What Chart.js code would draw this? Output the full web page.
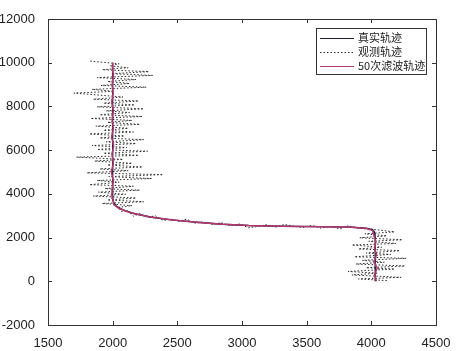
<!DOCTYPE html>
<html>
<head>
<meta charset="utf-8">
<script src="https://cdn.jsdelivr.net/npm/chart.js@4"></script>
<style>
  html, body { margin: 0; padding: 0; background: #fff; }
  #wrap { width: 474px; height: 351px; }
</style>
</head>
<body>
<div id="wrap"><canvas id="trackChart"></canvas></div>
<script>
// Axis ticks
const xTicks = [1500, 2000, 2500, 3000, 3500, 4000, 4500];
const yTicks = [-2000, 0, 2000, 4000, 6000, 8000, 10000, 12000];

// Legend names
const seriesNames = ["真实轨迹", "观测轨迹", "50次滤波轨迹"];

// True trajectory
const trueX = [4030, 4030, 4030, 4025, 4010, 3960, 3850, 3600, 3300, 3050, 2850, 2650, 2450, 2300, 2170, 2080, 2030, 2008, 2000, 2000];
const trueY = [0, 1000, 2000, 2250, 2360, 2430, 2470, 2500, 2520, 2550, 2610, 2700, 2810, 2930, 3090, 3270, 3430, 3600, 3800, 10000];

// Observed trajectory (noisy)
const obsX = [
  4120, 3900, 4230, 3850, 4050, 3820, 4180, 3960, 4260, 3880, 4100, 3930, 4270, 3870, 4150, 3960, 4220, 3900, 4080, 3850,
  4190, 3980, 4240, 3910, 4120, 3950, 4180, 4010,
  3900, 3820, 3760, 3680, 3610, 3540, 3470, 3400, 3330, 3260, 3190, 3120, 3050, 2980, 2910, 2840, 2770, 2700, 2640, 2570,
  2510, 2450, 2390, 2330, 2270, 2210, 2160, 2110, 2070, 2040,
  2150, 1920, 2240, 1960, 2180, 1850, 2100, 1890, 2210, 1940, 2160, 1820, 2050, 1880, 2300, 1970, 2390, 1800, 2120, 1900,
  2230, 1960, 2150, 1860, 2080, 1720, 2200, 1930, 2270, 1880, 2110, 1840, 2180, 1950, 2240, 1900, 2090, 1820, 2160, 1930,
  2120, 1870, 2210, 1960, 2150, 1830, 2230, 1900, 2130, 1950, 2240, 1880, 2170, 1930, 2200, 1850, 2080, 1700, 2010, 1840,
  2260, 1910, 2130, 1960, 2180, 1880, 2310, 1990, 2280, 1920, 2120, 1980, 2050, 1820
];
const obsY = [
  30, 110, 180, 290, 370, 450, 560, 620, 700, 790, 870, 960, 1050, 1120, 1230, 1290, 1400, 1480, 1560, 1660,
  1730, 1830, 1900, 1990, 2080, 2170, 2260, 2380,
  2420, 2540, 2400, 2510, 2430, 2560, 2460, 2520, 2600, 2480, 2590, 2510, 2450, 2620, 2540, 2680, 2600, 2720, 2650, 2840,
  2740, 2850, 2780, 3000, 2920, 3100, 2980, 3250, 3180, 3380,
  3460, 3560, 3640, 3720, 3810, 3900, 3980, 4080, 4170, 4240, 4350, 4420, 4530, 4610, 4700, 4790, 4880, 4960, 5060, 5140,
  5230, 5320, 5400, 5500, 5580, 5680, 5760, 5860, 5950, 6030, 6120, 6210, 6300, 6380, 6480, 6560, 6650, 6740, 6830, 6910,
  7000, 7100, 7180, 7270, 7360, 7450, 7540, 7620, 7720, 7800, 7890, 7980, 8070, 8150, 8250, 8330, 8430, 8610, 8690, 8780,
  8880, 8960, 9050, 9140, 9230, 9320, 9420, 9500, 9590, 9680, 9770, 9860, 9950, 10080
];

// Filtered trajectory (50 runs)
const filtX = [4040, 4025, 4045, 4020, 4040, 4025, 4035, 4020, 4010, 3960, 3850, 3600, 3300, 3050, 2850, 2650, 2450, 2280, 2130, 2050,
  2010, 2000, 1995, 2005, 1990, 2005, 1995, 2008, 1992, 2005, 1995, 2006, 1993, 2004, 1996, 2005, 1998, 2000];
const filtY = [0, 300, 600, 900, 1200, 1500, 1800, 2100, 2320, 2420, 2470, 2500, 2520, 2550, 2610, 2700, 2810, 2950, 3150, 3330,
  3500, 3800, 4200, 4600, 5000, 5400, 5800, 6200, 6600, 7000, 7400, 7800, 8200, 8600, 9000, 9400, 9800, 10000];

function zip(xs, ys) {
  return xs.map((x, i) => ({ x: x, y: ys[i] }));
}

const colTrue = "#1c1c3c";
const colObs = "#2a2a2a";
const colFilt = "#b3386f";

// Box, inward ticks and legend, MATLAB style
const matlabFrame = {
  id: "matlabFrame",
  afterDraw(chart) {
    const ctx = chart.ctx;
    const a = chart.chartArea;
    const xs = chart.scales.x, ys = chart.scales.y;
    ctx.save();
    ctx.strokeStyle = "#333";
    ctx.lineWidth = 1;
    ctx.strokeRect(Math.round(a.left) + 0.5, Math.round(a.top) + 0.5,
      Math.round(a.right - a.left), Math.round(a.bottom - a.top));
    ctx.beginPath();
    xTicks.forEach(v => {
      const px = Math.round(xs.getPixelForValue(v)) + 0.5;
      ctx.moveTo(px, a.bottom); ctx.lineTo(px, a.bottom - 4);
      ctx.moveTo(px, a.top); ctx.lineTo(px, a.top + 4);
    });
    yTicks.forEach(v => {
      const py = Math.round(ys.getPixelForValue(v)) + 0.5;
      ctx.moveTo(a.left, py); ctx.lineTo(a.left + 4, py);
      ctx.moveTo(a.right, py); ctx.lineTo(a.right - 4, py);
    });
    ctx.stroke();

    // legend
    const lx = 316.5, ly = 28.5, lw = 110, lh = 46;
    ctx.fillStyle = "#fff";
    ctx.fillRect(lx, ly, lw, lh);
    ctx.strokeStyle = "#333";
    ctx.strokeRect(lx, ly, lw, lh);
    const rows = [
      { c: colTrue, dash: [], y: 38 },
      { c: colObs, dash: [1.5, 2], y: 52 },
      { c: colFilt, dash: [], y: 66 }
    ];
    ctx.font = "11px 'Noto Sans CJK SC', sans-serif";
    ctx.textBaseline = "middle";
    rows.forEach((r, i) => {
      ctx.beginPath();
      ctx.setLineDash(r.dash);
      ctx.strokeStyle = r.c;
      ctx.lineWidth = r.dash.length ? 1 : 1.2;
      ctx.moveTo(320, r.y + 0.5); ctx.lineTo(354, r.y + 0.5);
      ctx.stroke();
      ctx.setLineDash([]);
      ctx.fillStyle = "#222";
      ctx.fillText(seriesNames[i], 358, r.y);
    });
    ctx.restore();
  }
};

const ctx = document.getElementById("trackChart").getContext("2d");
new Chart(ctx, {
  type: "scatter",
  data: {
    datasets: [
      {
        label: seriesNames[2], data: zip(filtX, filtY), showLine: true,
        borderColor: colFilt, borderWidth: 1.5, pointRadius: 0
      },
      {
        label: seriesNames[0], data: zip(trueX, trueY), showLine: true,
        borderColor: colTrue, borderWidth: 1.4, pointRadius: 0
      },
      {
        label: seriesNames[1], data: zip(obsX, obsY), showLine: true,
        borderColor: colObs, borderWidth: 1, borderDash: [1.5, 2], pointRadius: 0
      }
    ]
  },
  options: {
    responsive: true,
    maintainAspectRatio: false,
    animation: false,
    layout: { padding: { top: 19, right: 38, left: 0, bottom: 0 } },
    plugins: { legend: { display: false }, tooltip: { enabled: false } },
    scales: {
      x: {
        type: "linear", min: 1500, max: 4500,
        afterBuildTicks: s => { s.ticks = xTicks.map(v => ({ value: v })); },
        afterFit: s => { s.height = 26; },
        grid: { display: false }, border: { display: false },
        ticks: { color: "#222", padding: 3, maxRotation: 0, callback: v => String(v),
          font: { family: "'Liberation Sans', Arial", size: 13 } }
      },
      y: {
        type: "linear", min: -2000, max: 12000,
        afterBuildTicks: s => { s.ticks = yTicks.map(v => ({ value: v })); },
        afterFit: s => { s.width = 48; },
        grid: { display: false }, border: { display: false },
        ticks: { color: "#222", padding: 5, callback: v => String(v),
          font: { family: "'Liberation Sans', Arial", size: 13 } }
      }
    }
  },
  plugins: [matlabFrame]
});
</script>
</body>
</html>
